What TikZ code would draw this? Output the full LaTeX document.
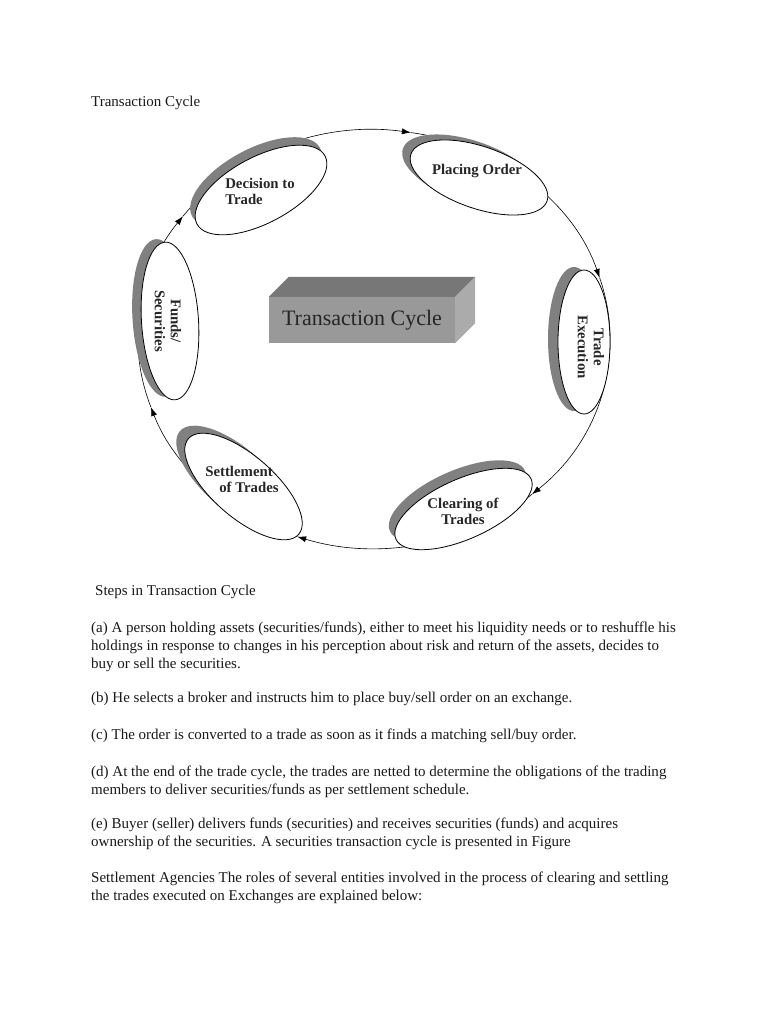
\documentclass[tikz,border=0pt]{standalone}
\usepackage{fontspec}
\setmainfont{Liberation Serif}
\usetikzlibrary{arrows.meta,calc,shapes.geometric}
\definecolor{ghostgray}{HTML}{808080}
\definecolor{boxfront}{HTML}{999999}
\definecolor{boxtop}{HTML}{777777}
\definecolor{boxside}{HTML}{ABABAB}
\begin{document}
\begin{tikzpicture}[x=1pt,y=-1pt,
  stage/.style={ellipse, draw=black, line width=0.8pt, fill=white, inner sep=0pt},
  ghost/.style={ellipse, fill=ghostgray, draw=none, inner sep=0pt},
  lbl/.style={font=\fontsize{14.8}{16}\selectfont\bfseries, inner sep=0pt, align=center, text=black!85},
  body/.style={anchor=base west, inner sep=0pt, font=\fontsize{15}{18}\selectfont, text=black!90},
  flow/.style={line width=0.6pt, -{Latex[length=9pt,width=6pt]}},
]
\fill[white] (0,0) rectangle (768,1024);
\useasboundingbox (0,0) rectangle (768,1024);

% cycle connectors
\coordinate (ctr) at (374,339);
\coordinate (inDec) at ($(ctr)+(-216:236pt and 209pt)$);
\coordinate (inPla) at ($(ctr)+(-279:236pt and 209pt)$);
\coordinate (inTra) at ($(ctr)+(-343:236pt and 209pt)$);
\coordinate (inCle) at ($(ctr)+(-408:236pt and 209pt)$);
\coordinate (inSet) at ($(ctr)+(-469:236pt and 209pt)$);
\coordinate (inFun) at ($(ctr)+(-521:236pt and 209pt)$);
\draw[flow] (inDec) arc[start angle=-216, end angle=-279, x radius=236pt, y radius=209pt];
\draw[flow] (inPla) arc[start angle=-279, end angle=-343, x radius=236pt, y radius=209pt];
\draw[flow] (inTra) arc[start angle=-343, end angle=-408, x radius=236pt, y radius=209pt];
\draw[flow] (inCle) arc[start angle=-408, end angle=-469, x radius=236pt, y radius=209pt];
\draw[flow] (inSet) arc[start angle=-469, end angle=-521, x radius=236pt, y radius=209pt];
\draw[flow] (inFun) arc[start angle=-521, end angle=-576, x radius=236pt, y radius=209pt];

% Decision to Trade
\node[ghost, minimum width=145pt, minimum height=66pt, rotate=28] (decS) at (256,182) {};
\node[stage, minimum width=145pt, minimum height=66pt, rotate=28] (dec) at (261,190) {};
\node[lbl, align=left] (decT) at (260,191) {Decision to\\Trade};

% Placing Order
\node[ghost, minimum width=144pt, minimum height=62pt, rotate=-19] (plaS) at (471,172) {};
\node[stage, minimum width=144pt, minimum height=62pt, rotate=-19] (pla) at (479,177.5) {};
\node[lbl] (plaT) at (477,171) {Placing Order};

% Trade Execution
\node[ghost, minimum width=52pt, minimum height=144pt] (traS) at (574,339) {};
\node[stage, minimum width=52pt, minimum height=144pt] (tra) at (584,342) {};
\node[lbl, rotate=-90] (traT) at (591,347) {Trade\\Execution};

% Clearing of Trades
\node[ghost, minimum width=148pt, minimum height=60pt, rotate=24] (cleS) at (457.5,501) {};
\node[stage, minimum width=148pt, minimum height=60pt, rotate=24] (cle) at (463.5,509) {};
\node[lbl] (cleT) at (463,511) {Clearing of\\Trades};

% Settlement of Trades
\node[ghost, minimum width=146pt, minimum height=62pt, rotate=-41] (setS) at (235,479) {};
\node[stage, minimum width=146pt, minimum height=62pt, rotate=-41] (set) at (243.5,486.5) {};
\node[lbl, align=left] (setT) at (242,479) {Settlement\\\hspace*{14pt}of Trades};

% Funds / Securities
\node[ghost, minimum width=158pt, minimum height=57pt, rotate=-86.4] (funS) at (161,318) {};
\node[stage, minimum width=158pt, minimum height=57pt, rotate=-86.4] (fun) at (170,321) {};
\node[lbl, rotate=-90] (funT) at (168,321) {Funds/\\Securities};

% central box
\node[fill=boxfront, minimum width=186pt, minimum height=46pt, inner sep=0pt,
      font=\fontsize{22}{24}\selectfont, text=black!85] (core) at (362,320) {Transaction Cycle};
\fill[boxtop] (core.north west) -- ++(20,-20) -- ($(core.north east)+(20pt,20pt)$) -- (core.north east) -- cycle;
\fill[boxside] (core.north east) -- ($(core.north east)+(20pt,20pt)$) -- ($(core.south east)+(20pt,20pt)$) -- (core.south east) -- cycle;

% body text
\node[body] (h1) at (91,107) {Transaction Cycle};
\node[body] (h2) at (95,595) {Steps in Transaction Cycle};
\node[body] (a1) at (91,632) {(a) A person holding assets (securities/funds), either to meet his liquidity needs or to reshuffle his};
\node[body] (a2) at (91,650) {holdings in response to changes in his perception about risk and return of the assets, decides to};
\node[body] (a3) at (91,668) {buy or sell the securities.};
\node[body] (b1) at (91,702) {(b) He selects a broker and instructs him to place buy/sell order on an exchange.};
\node[body] (c1) at (91,739) {(c) The order is converted to a trade as soon as it finds a matching sell/buy order.};
\node[body] (d1) at (91,776) {(d) At the end of the trade cycle, the trades are netted to determine the obligations of the trading};
\node[body] (d2) at (91,794) {members to deliver securities/funds as per settlement schedule.};
\node[body] (e1) at (91,828) {(e) Buyer (seller) delivers funds (securities) and receives securities (funds) and acquires};
\node[body] (e2) at (91,846) {ownership of the securities. A securities transaction cycle is presented in Figure};
\node[body] (s1) at (91,882) {Settlement Agencies The roles of several entities involved in the process of clearing and settling};
\node[body] (s2) at (91,900) {the trades executed on Exchanges are explained below:};
\end{tikzpicture}
\end{document}
